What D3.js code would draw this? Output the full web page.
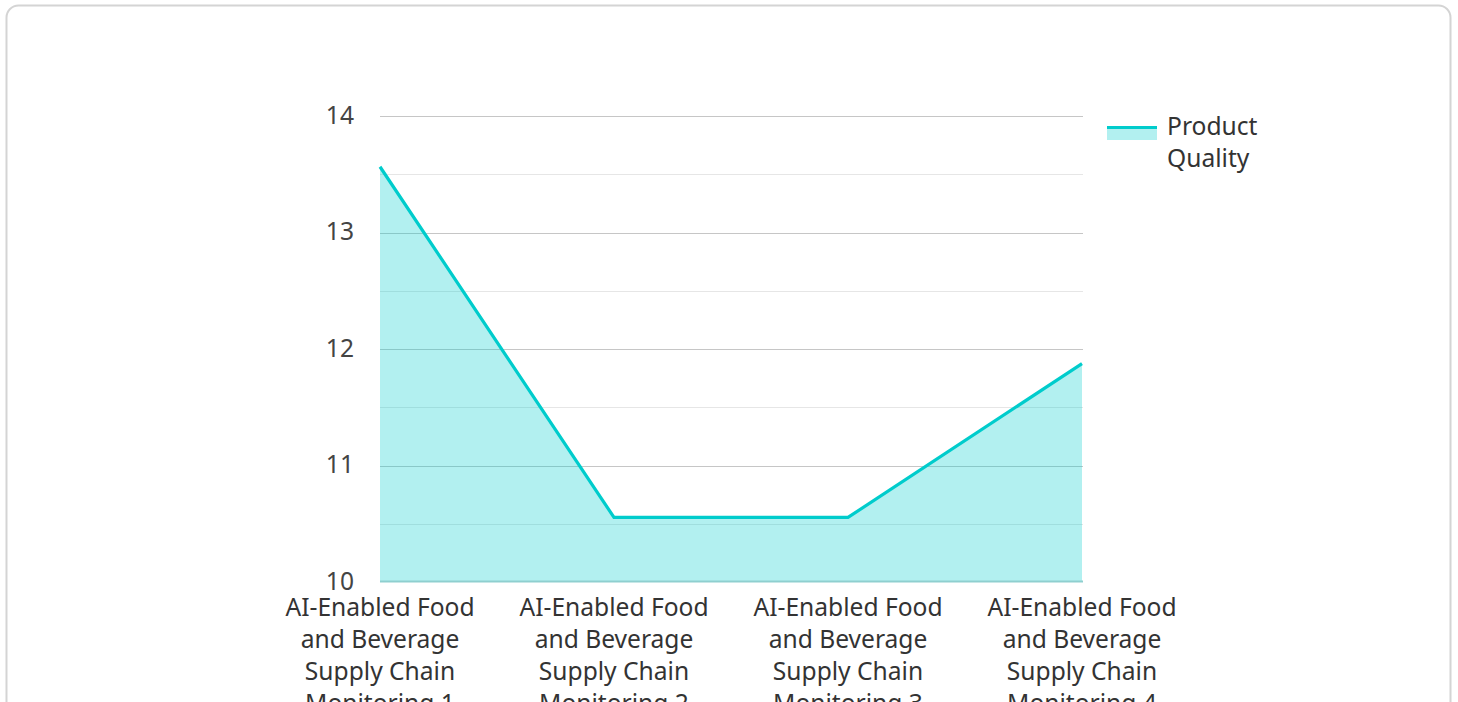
<!DOCTYPE html>
<html lang="en">
	<head>
		<meta charset="utf-8">
		<title>product quality</title>
		<style>
			body {
				margin: 0;
				background-color: #ffffff;
				font-family: "Noto Sans", "Open Sans", sans-serif;
			}

			.grid line {
				stroke-width: 1px;
				shape-rendering: crispEdges;
			}

			.axis text, .xlabel, .legend text {
				font-family: "Noto Sans", sans-serif;
				font-size: 24.6px;
				fill: #333;
			}

			.axis text {
				fill: #444;
			}

			path.line {
				fill: none;
				stroke: #00cccc;
				stroke-width: 3.2px;
			}

			path.area {
				fill: #00cccc;
				fill-opacity: 0.3;
			}
		</style>
	</head>
	<body>
		<script src="https://cdnjs.cloudflare.com/ajax/libs/d3/7.8.5/d3.min.js"></script>
		<script>

			var categories = [
				"AI-Enabled Food and Beverage Supply Chain Monitoring 1",
				"AI-Enabled Food and Beverage Supply Chain Monitoring 2",
				"AI-Enabled Food and Beverage Supply Chain Monitoring 3",
				"AI-Enabled Food and Beverage Supply Chain Monitoring 4"
			];
			var labelLines = [
				["AI-Enabled Food", "and Beverage", "Supply Chain", "Monitoring 1"],
				["AI-Enabled Food", "and Beverage", "Supply Chain", "Monitoring 2"],
				["AI-Enabled Food", "and Beverage", "Supply Chain", "Monitoring 3"],
				["AI-Enabled Food", "and Beverage", "Supply Chain", "Monitoring 4"]
			];
			var productQuality = [13.56, 10.55, 10.55, 11.87];
			var yTicks = [10, 11, 12, 13, 14];
			var yMinorTicks = [10.5, 11.5, 12.5, 13.5];
			var seriesName = ["Product", "Quality"];

			var fullwidth = 1458;
			var fullheight = 702;
			var margin = { top: 115.5, left: 380, right: 376, bottom: 120.5 };
			var width = fullwidth - margin.left - margin.right;
			var height = fullheight - margin.top - margin.bottom;

			var svg = d3.select("body")
						.append("svg")
						.attr("width", fullwidth)
						.attr("height", fullheight);

			// card border
			svg.append("rect")
				.attr("x", 6.5)
				.attr("y", 5.5)
				.attr("width", 1444)
				.attr("height", 800)
				.attr("rx", 12)
				.attr("fill", "#fff")
				.attr("stroke", "#d4d4d4")
				.attr("stroke-width", 2);

			var g = svg.append("g")
				.attr("transform", "translate(" + margin.left + "," + margin.top + ")");

			var xScale = d3.scalePoint()
				.domain(categories)
				.range([0, width]);

			var yScale = d3.scaleLinear()
				.domain([10, 14])
				.range([height, 0]);

			// grid
			var grid = g.append("g").attr("class", "grid");
			grid.selectAll("line.minor")
				.data(yMinorTicks)
				.enter()
				.append("line")
				.attr("class", "minor")
				.attr("x1", 0)
				.attr("x2", width + 1)
				.attr("y1", function(d) { return Math.round(yScale(d)) + 0.5; })
				.attr("y2", function(d) { return Math.round(yScale(d)) + 0.5; })
				.attr("stroke", "#e6e6e6");
			grid.selectAll("line.major")
				.data(yTicks.slice(1))
				.enter()
				.append("line")
				.attr("class", "major")
				.attr("x1", 0)
				.attr("x2", width + 1)
				.attr("y1", function(d) { return Math.round(yScale(d)) + 0.5; })
				.attr("y2", function(d) { return Math.round(yScale(d)) + 0.5; })
				.attr("stroke", "#c6c6c6");

			var area = d3.area()
				.x(function(d, i) { return xScale(categories[i]); })
				.y0(yScale(10))
				.y1(function(d) { return yScale(d); });

			var line = d3.line()
				.x(function(d, i) { return xScale(categories[i]); })
				.y(function(d) { return yScale(d); });

			g.append("path")
				.datum(productQuality)
				.attr("class", "area")
				.attr("d", area);

			// baseline
			g.append("line")
				.attr("x1", 0)
				.attr("x2", width + 1)
				.attr("y1", yScale(10))
				.attr("y2", yScale(10))
				.attr("stroke", "#8fcfcf")
				.attr("stroke-width", 2);

			g.append("path")
				.datum(productQuality)
				.attr("class", "line")
				.attr("d", line);

			// y axis labels
			var yAxis = d3.axisLeft(yScale)
				.tickValues(yTicks)
				.tickSize(0)
				.tickPadding(26)
				.tickFormat(d3.format("d"));

			g.append("g")
				.attr("class", "axis")
				.call(yAxis)
				.call(function(s) { s.select(".domain").remove(); });

			// x labels, wrapped
			var xl = g.selectAll("text.xlabel")
				.data(categories)
				.enter()
				.append("text")
				.attr("class", "xlabel")
				.attr("text-anchor", "middle")
				.attr("x", function(d) { return xScale(d); })
				.attr("y", height + 34);

			xl.selectAll("tspan")
				.data(function(d, i) { return labelLines[i]; })
				.enter()
				.append("tspan")
				.attr("x", function() { return xScale(d3.select(this.parentNode).datum()); })
				.attr("dy", function(d, i) { return i == 0 ? 0 : 32; })
				.text(function(d) { return d; });

			// legend
			var legend = svg.append("g")
				.attr("class", "legend")
				.attr("transform", "translate(1107,126)");

			legend.append("rect")
				.attr("x", 0)
				.attr("y", 0)
				.attr("width", 50)
				.attr("height", 14)
				.attr("fill", "#00cccc")
				.attr("fill-opacity", 0.3);

			legend.append("line")
				.attr("x1", 0)
				.attr("x2", 50)
				.attr("y1", 1.5)
				.attr("y2", 1.5)
				.attr("stroke", "#00cccc")
				.attr("stroke-width", 3);

			legend.selectAll("text")
				.data(seriesName)
				.enter()
				.append("text")
				.attr("x", 60)
				.attr("y", function(d, i) { return 9 + i * 32; })
				.text(function(d) { return d; });

		</script>
	</body>
</html>
